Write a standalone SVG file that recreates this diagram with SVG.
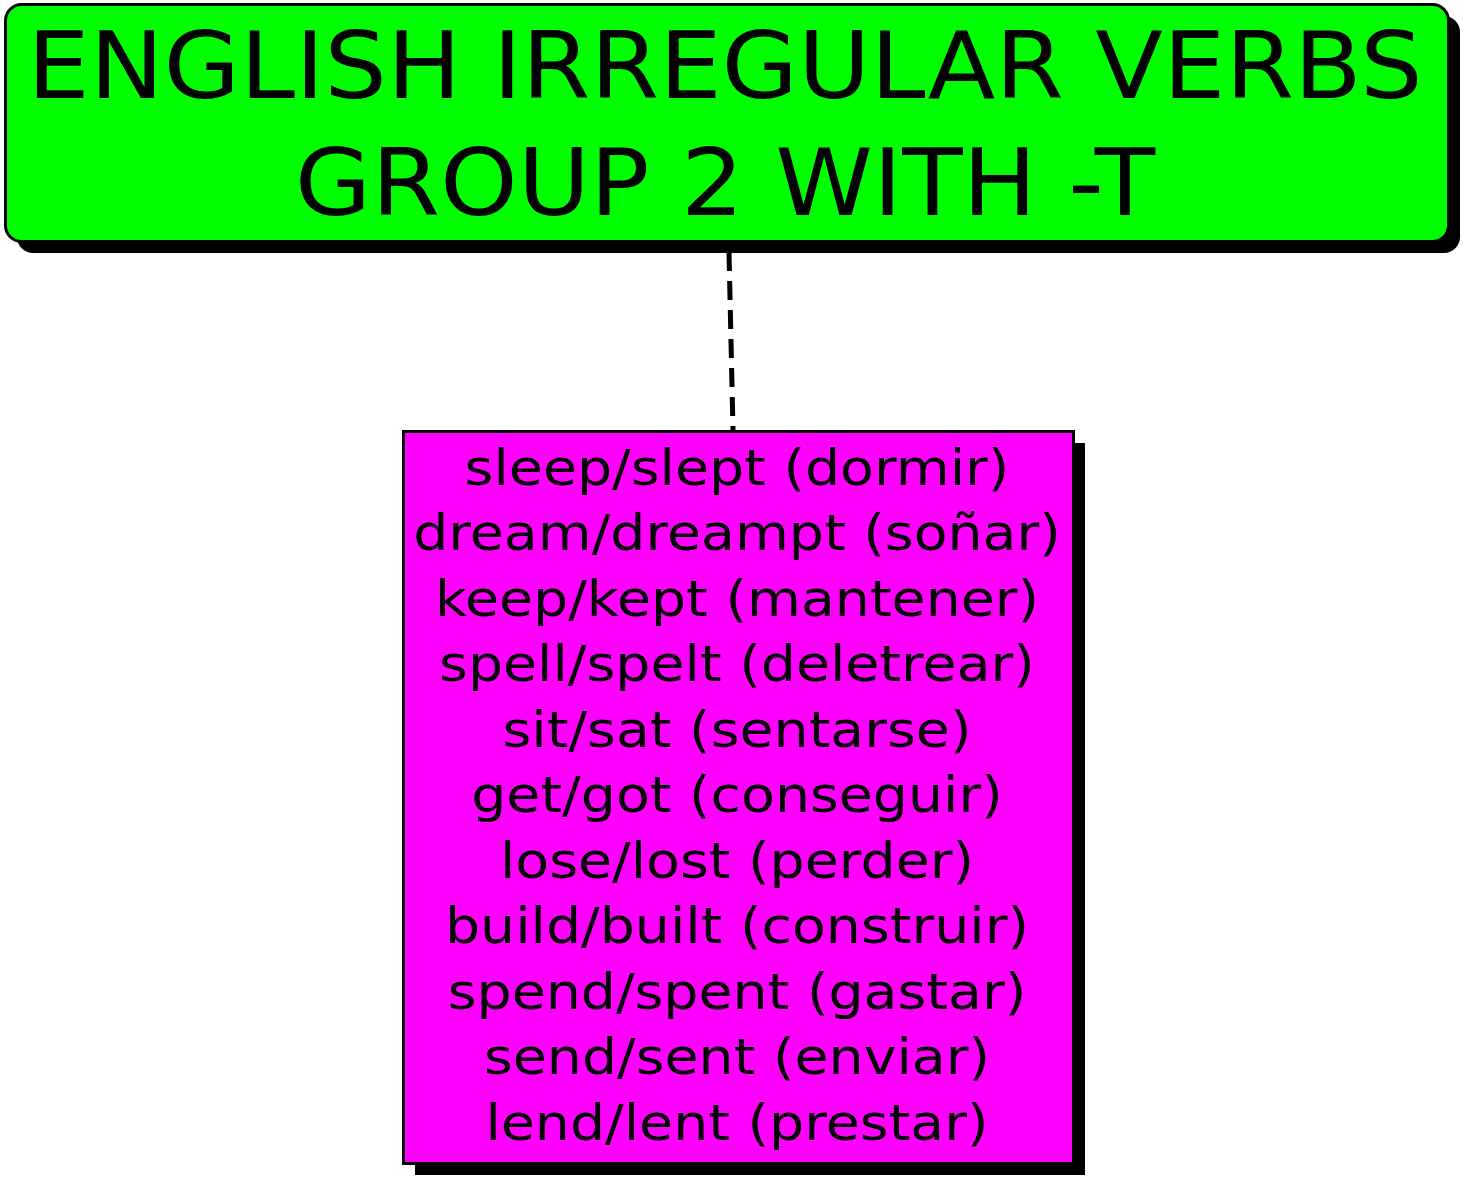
<svg xmlns="http://www.w3.org/2000/svg" width="1465" height="1181" viewBox="0 0 1465 1181">
<style>
.t{font-family:"DejaVu Sans",Verdana,sans-serif;fill:#000;text-anchor:middle}
.title{font-size:92px}
.body{font-size:50px}
.conn{stroke:#000;stroke-width:5;stroke-dasharray:19 10;fill:none}
</style>
<rect width="1465" height="1181" fill="#fff"/>
<g id="connectors">
<line class="conn" x1="729" y1="252" x2="733" y2="430"/>
</g>
<g id="title">
<rect x="17" y="16" width="1443" height="237" rx="16" fill="#000"/>
<rect x="5.5" y="4.5" width="1443" height="237" rx="16" fill="#00ff00" stroke="#000" stroke-width="3"/>
<g transform="translate(725,0) scale(1.074,1)">
<text class="t title" x="0" y="98">ENGLISH IRREGULAR VERBS</text>
<text class="t title" x="0" y="215">GROUP 2 WITH -T</text>
</g>
</g>
<g id="verbs">
<rect x="415" y="443" width="670" height="732" fill="#000"/>
<rect x="403.5" y="431.5" width="670" height="732" fill="#ff00ff" stroke="#000" stroke-width="3"/>
<g transform="translate(737,0) scale(1.107,1)">
<text class="t body" x="0" y="485">sleep/slept (dormir)</text>
<text class="t body" x="0" y="550.5">dream/dreampt (soñar)</text>
<text class="t body" x="0" y="616">keep/kept (mantener)</text>
<text class="t body" x="0" y="681.5">spell/spelt (deletrear)</text>
<text class="t body" x="0" y="747">sit/sat (sentarse)</text>
<text class="t body" x="0" y="812.5">get/got (conseguir)</text>
<text class="t body" x="0" y="878">lose/lost (perder)</text>
<text class="t body" x="0" y="943.5">build/built (construir)</text>
<text class="t body" x="0" y="1009">spend/spent (gastar)</text>
<text class="t body" x="0" y="1074.5">send/sent (enviar)</text>
<text class="t body" x="0" y="1140">lend/lent (prestar)</text>
</g>
</g>
</svg>
